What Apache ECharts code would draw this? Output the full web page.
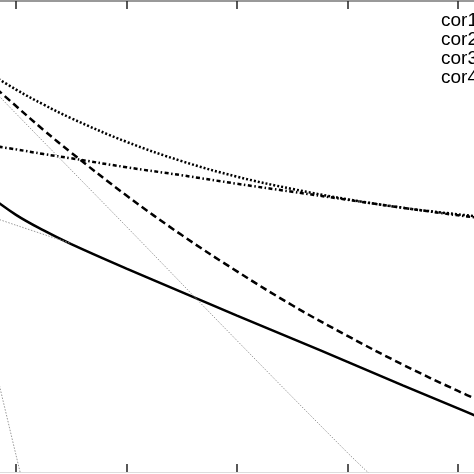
<!DOCTYPE html>
<html>
<head>
<meta charset="utf-8">
<script src="https://cdn.jsdelivr.net/npm/echarts@6/dist/echarts.min.js"></script>
<style>html,body{margin:0;padding:0;background:#fff}#c{width:474px;height:474px}</style>
</head>
<body>
<div id="c"></div>
<script>
// x positions (axis units, ticks every 1)
const xs = [-0.25, 0, 0.25, 0.5, 1, 1.5, 2, 2.5, 3, 3.5, 4, 4.25];
const cor1 = [0.588, 0.546, 0.513, 0.484, 0.432, 0.382, 0.332, 0.283, 0.234, 0.184, 0.135, 0.110];
const cor2 = [0.829, 0.777, 0.726, 0.678, 0.587, 0.503, 0.426, 0.354, 0.289, 0.228, 0.172, 0.146];
const cor3 = [0.848, 0.812, 0.780, 0.751, 0.701, 0.660, 0.627, 0.601, 0.579, 0.561, 0.547, 0.541];
const cor4 = [0.694, 0.685, 0.675, 0.666, 0.647, 0.630, 0.612, 0.595, 0.578, 0.561, 0.545, 0.538];
// thin reference lines
const refAx = [-0.25, 0, 1, 2, 3, 3.25];
const refA  = [0.822, 0.761, 0.521, 0.279, 0.041, -0.015];
const refBx = [-0.25, 0, 0.5];
const refB  = [0.544, 0.524, 0.485];
const refCx = [-0.25, 0, 0.05];
const refC  = [0.282, 0.036, -0.013];
const legendNames = ['cor1', 'cor2', 'cor3', 'cor4'];

const pair = (x, y) => x.map((v, i) => [v, y[i]]);
const chart = echarts.init(document.getElementById('c'), null, {renderer: 'canvas'});
const thick = (name, data, type) => ({
  name, type: 'line', data: pair(xs, data), smooth: 0.4, symbol: 'none', silent: true,
  lineStyle: {color: '#000', width: 2.5, type}
});
const thin = (name, x, y) => ({
  name, type: 'line', data: pair(x, y), smooth: 0.4, symbol: 'none', silent: true,
  lineStyle: {color: '#999', width: 1, type: [1.5, 1.5]}
});
const axisCommon = {
  type: 'value', min: -1, max: 5, interval: 1,
  axisLabel: {show: false}, splitLine: {show: false},
  axisTick: {show: true, inside: true, length: 8, lineStyle: {color: '#222', width: 1.5}}
};
chart.setOption({
  animation: false,
  backgroundColor: '#fff',
  grid: {left: -94.5, right: -94.5, top: 1, bottom: 2, outerBoundsMode: 'none', containLabel: false},
  legend: {
    data: legendNames, orient: 'vertical', left: 441, top: 11, align: 'right', padding: 0,
    itemGap: 0, itemWidth: 40, itemHeight: 14,
    textStyle: {fontFamily: 'Liberation Sans', fontSize: 19, lineHeight: 18, color: '#000'}
  },
  xAxis: [
    Object.assign({}, axisCommon, {position: 'bottom', axisLine: {show: true, lineStyle: {color: '#ddd', width: 1}}}),
    Object.assign({}, axisCommon, {position: 'top', axisLine: {show: true, lineStyle: {color: '#999', width: 2}}})
  ],
  yAxis: {type: 'value', min: 0, max: 1, show: false},
  series: [
    thick('cor1', cor1, 'solid'),
    thick('cor2', cor2, [7, 4]),
    thick('cor3', cor3, [2, 2]),
    thick('cor4', cor4, [4, 2.5, 1.5, 2.5]),
    thin('refA', refAx, refA),
    thin('refB', refBx, refB),
    thin('refC', refCx, refC)
  ]
});
</script>
</body>
</html>
